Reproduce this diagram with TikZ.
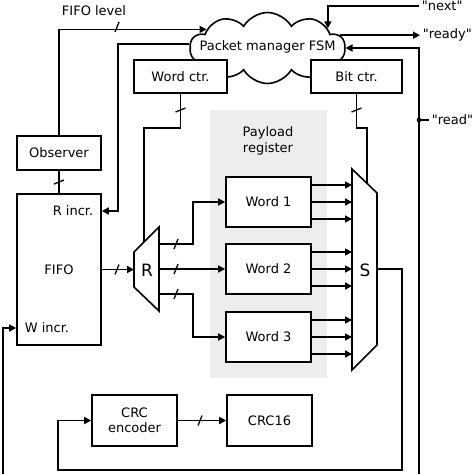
\documentclass[tikz,border=0pt]{standalone}
\usepackage{fontspec}
\setmainfont{DejaVu Sans}[Ligatures=TeXOff]
\usetikzlibrary{arrows.meta,shapes.symbols,calc}
\begin{document}
\begin{tikzpicture}[x=1pt,y=-1pt,
  font=\fontsize{13}{15.5}\selectfont,
  line width=1.6pt, line join=miter,
  box/.style={draw, fill=white, rectangle, inner sep=0pt, align=center},
  lbl/.style={inner sep=2pt},
  arr/.style={-{Triangle[length=7pt,width=7pt]}},
  big/.style={font=\fontsize{17}{20}\selectfont},
  hbus/.pic={\draw[line width=1.3pt] (-2,5) -- (2,-5);},
  vbus/.pic={\draw[line width=1.3pt] (-5,2) -- (5,-2);}]
\useasboundingbox (0,0) rectangle (474,474);
% background of payload register
\fill[gray!14] (210,110) rectangle (327,378);
\node[align=center] (plbl) at (268,141) {Payload\\register};
% FSM cloud
\node[cloud, draw, fill=white, cloud puffs=10, cloud puff arc=120, cloud ignores aspect,
      minimum width=155pt, minimum height=71pt, inner sep=0pt] (fsm) at (267.5,48) {};
\node (fsmtext) at (267.5,47) {Packet manager FSM};
% boxes
\node[box, minimum width=93pt, minimum height=33pt] (wctr) at (180.5,76.5) {Word ctr.};
\node[box, minimum width=91pt, minimum height=33pt] (bctr) at (356.5,76.5) {Bit ctr.};
\node[box, minimum width=84pt, minimum height=34pt] (obs) at (59,153) {Observer};
\node[box, minimum width=84pt, minimum height=151pt] (fifo) at (59,269.5) {FIFO};
\node[lbl, anchor=east] (rinc) at (96,211) {R incr.};
\node[lbl, anchor=west] (winc) at (22,328) {W incr.};
\node[box, minimum width=85pt, minimum height=50pt] (w1) at (268.5,202) {Word 1};
\node[box, minimum width=85pt, minimum height=50pt] (w2) at (268.5,269) {Word 2};
\node[box, minimum width=85pt, minimum height=50pt] (w3) at (268.5,337) {Word 3};
\node[box, minimum width=85pt, minimum height=51pt] (crc) at (134.5,420.5) {CRC\\encoder};
\node[box, minimum width=85pt, minimum height=51pt] (crc16) at (269.5,420.5) {CRC16};
% muxes
\coordinate (Rtl) at (134,252); \coordinate (Rtr) at (159,227);
\coordinate (Rbr) at (159,311); \coordinate (Rbl) at (134,287);
\draw (Rtl) -- (Rtr) -- (Rbr) -- (Rbl) -- cycle;
\node[big] (R) at (147,270) {R};
\coordinate (Stl) at (352,169); \coordinate (Str) at (377,193);
\coordinate (Sbr) at (377,345); \coordinate (Sbl) at (352,370);
\draw (Stl) -- (Str) -- (Sbr) -- (Sbl) -- cycle;
\node[big] (S) at (365,270) {S};
% FIFO level
\node (fl) at (94,11) {FIFO level};
\draw[arr] (obs.north) |- (fsm.163);
\pic at (117,27) {hbus};
% R incr
\draw[arr] (fsm.177) -| ($(fifo.east |- rinc)+(16,0)$) -- (fifo.east |- rinc);
% observer - fifo
\draw (obs.south) -- (fifo.north);
\pic at (59,182) {vbus};
% W incr
\coordinate (wbot) at (3,476);
\draw[arr] (wbot) |- (fifo.west |- winc);
% FIFO -> R
\coordinate (Rin) at (134,269.5);
\draw[arr] (fifo.east |- Rin) -- (Rin);
\pic at (117,269.5) {hbus};
% word ctr -> R
\draw (wctr.south) -- ++(0,34) -| ($(Rtl)!0.4!(Rtr)$);
\pic at (180.5,110) {vbus};
% bit ctr -> S
\draw (bctr.south) -- ++(0,34) -| ($(Stl)!0.6!(Str)$);
\pic at (356.5,110) {vbus};
% R outputs
\coordinate (Ro1) at (159,244); \coordinate (Ro2) at (159,269); \coordinate (Ro3) at (159,294);
\draw[arr] (Ro1) -- ++(34,0) |- (w1.west);
\draw[arr] (Ro2) -- (w2.west);
\draw[arr] (Ro3) -- ++(34,0) |- (w3.west);
\foreach \y in {244,269,294} {\pic at (176,\y) {hbus};}
% word -> S
\foreach \w in {w1,w2,w3} {
  \foreach \d in {-17,0,17} {
    \draw[arr] ([yshift=\d pt]\w.east) -- ([yshift=\d pt]\w.east -| Stl);
  }
}
% S output loop to CRC encoder
\coordinate (So) at (377,269);
\coordinate (loop) at (402,470);
\draw[arr] (So) -| (loop) -| ([xshift=-33pt]crc.west) -- (crc.west);
% CRC -> CRC16
\draw[arr] (crc) -- (crc16);
\pic at (200,420.5) {hbus};
% next / ready / read
\coordinate (lx) at (420,0);
\node[lbl, anchor=west] (next) at (419,6) {"next"};
\draw[arr] (next.west) -| (fsm.18);
\node[lbl, anchor=west] (ready) at (fsm.10 -| lx) {"ready"};
\draw[arr] (fsm.10) -- (ready.west);
\coordinate (readbot) at (419,476);
\draw[arr] (readbot) |- (fsm.east);
\coordinate (rdot) at (419,120);
\node[lbl, anchor=west] (read) at (429,120) {"read"};
\draw (rdot) -- (read.west);
\fill (rdot) circle (2.3pt);
\end{tikzpicture}
\end{document}
